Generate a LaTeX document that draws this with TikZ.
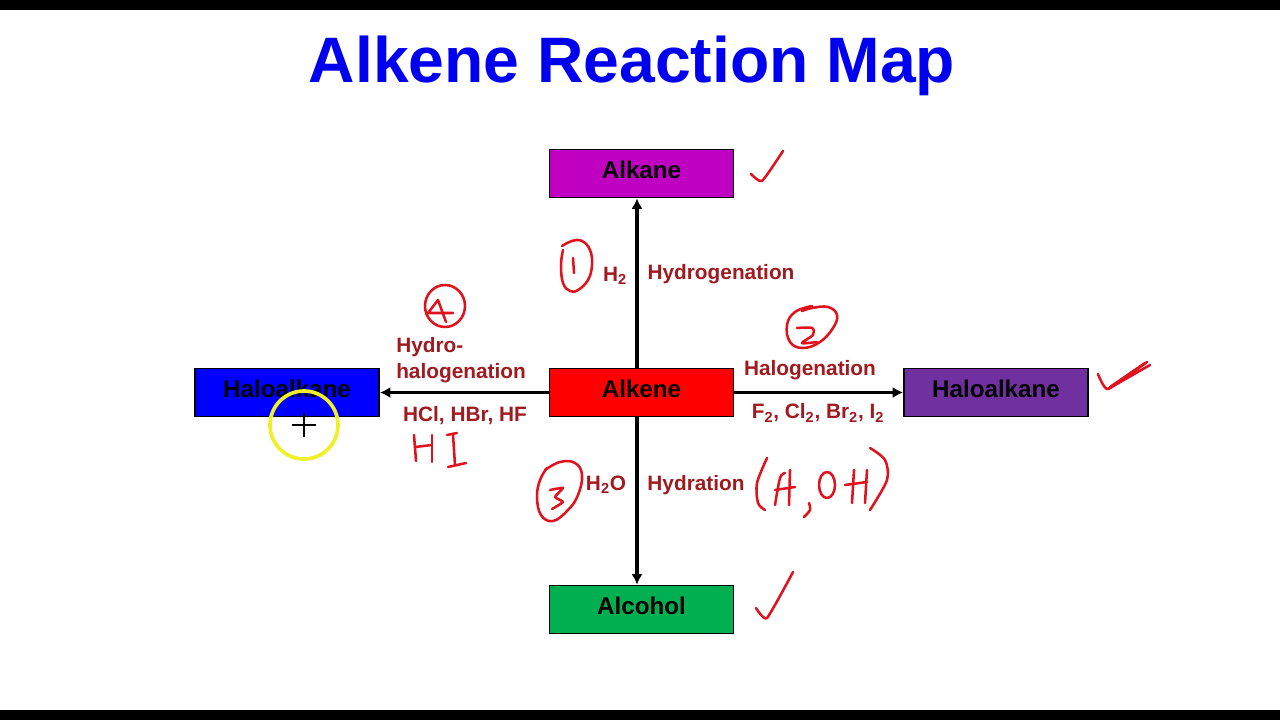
\documentclass[tikz,border=0pt]{standalone}
\usepackage{fontspec}
\setmainfont{Liberation Sans}
\usepackage{tikz}
\usetikzlibrary{arrows.meta}

\definecolor{labelred}{HTML}{A01A20}
\definecolor{penred}{HTML}{E0121E}
\definecolor{alkanefill}{HTML}{C000C0}
\definecolor{halofill}{HTML}{7030A0}
\definecolor{alcoholfill}{HTML}{00B050}

\tikzset{
  compound/.style={draw=black, line width=1.3pt, minimum width=4.6cm, minimum height=1.2cm,
    inner sep=0pt, font=\bfseries\fontsize{17.2}{20}\selectfont, text depth=5pt},
  reaction/.style={text=labelred, inner sep=0pt, font=\bfseries\fontsize{14.8}{18.5}\selectfont},
  route/.style={-{Latex[length=7.5pt,width=8pt]}, line width=2.2pt},
  pen/.style={penred, line width=1.8pt, line cap=round, line join=round},
}

\begin{document}
\begin{tikzpicture}[x=0.025cm, y=-0.025cm]
        % Frame and bars
        \fill[white] (0,0) rectangle (1280,720);
        \fill[black] (0,0) rectangle (1280,10);
        \fill[black] (0,710) rectangle (1280,720);
        \useasboundingbox (0,0) rectangle (1280,720);
        \node[text={rgb,255:red,0;green,0;blue,240}, font=\bfseries\fontsize{45.7}{50}\selectfont] (title) at (632,66) {Alkene Reaction Map};

        % Compounds
        \node[compound, fill=red] (alkene) at (641.5,392.5) {Alkene};
        \node[compound, fill=alkanefill] (alkane) at (641.5,173.5) {Alkane};
        \node[compound, fill=alcoholfill] (alcohol) at (641.5,609.5) {Alcohol};
        \node[compound, fill=blue] (leftalkane) at (287,392.5) {Haloalkane};
        \node[compound, fill=halofill] (rightalkane) at (996,392.5) {Haloalkane};

        % Routes
        \coordinate (axis) at (637,392);
        \draw[route] (axis |- alkene.north) -- (axis |- alkane.south);
        \draw[route] (axis |- alkene.south) -- (axis |- alcohol.north);
        \draw[route] (alkene.west) -- (leftalkane.east);
        \draw[route] (alkene.east) -- (rightalkane.west);

        % Reaction labels
        \node[reaction] (hydrogenation) at (721,274.5) {Hydrogenation};
        \node[reaction] (htwo) at (615,276) {H\textsubscript{2}};
        \node[reaction] (halogenation) at (810,370.5) {Halogenation};
        \node[reaction] (halogens) at (818,413) {F\textsubscript{2}, Cl\textsubscript{2}, Br\textsubscript{2}, I\textsubscript{2}};
        \node[reaction] (hydration) at (696,485) {Hydration};
        \node[reaction] (water) at (606,485) {H\textsubscript{2}O};
        \node[reaction, align=left] (hydrohalo) at (461,360.5) {Hydro-\\halogenation};
        \node[reaction] (acids) at (465,416) {HCl, HBr, HF};

        % Check marks
        \draw[pen] plot[smooth, tension=0.3] coordinates {(751,174) (762,181) (783,151)};
        \draw[pen] plot[smooth, tension=0.3] coordinates {(756,608) (767,618) (793,572)};
        \draw[pen] plot[smooth, tension=0.3] coordinates {(1098,374) (1108,389) (1147,362)};
        \draw[pen] (1108,389) -- (1150,365);
        \draw[pen] (1110,387) -- (1145,363);

        % Circled numbers
        \draw[pen] plot[smooth, tension=0.7] coordinates {(562,246) (572,241) (582,241) (590,250) (592,265) (588,280) (578,290) (570,291) (563,283) (561,265) (563,250)};
        \draw[pen] (573,258) -- (574,273);
        \draw[pen] plot[smooth, tension=0.7] coordinates {(812,306) (795,312) (787,325) (790,342) (803,348) (820,342) (833,328) (837,315) (828,307) (812,308) (802,311)};
        \draw[pen] plot[smooth, tension=0.5] coordinates {(797,328) (812,328) (813,335) (802,343) (817,342)};
        \draw[pen] plot[smooth, tension=0.7] coordinates {(545,470) (560,462) (575,463) (582,475) (578,495) (568,510) (553,521) (541,515) (537,497) (540,480) (547,468)};
        \draw[pen] plot[smooth, tension=0.3] coordinates {(550,490) (563,488) (555,497) (563,502) (552,509)};
        \draw[pen] (445,306) ellipse (20 and 21);
        \draw[pen] (446,322) -- (438,300) -- (428,313) -- (453,313);

        % HI
        \draw[pen] (414,435) -- (416,461);
        \draw[pen] (432,435) -- (432,462);
        \draw[pen] (415,447) -- (432,445);
        \draw[pen] (447,435) -- (457,433);
        \draw[pen] (453,435) -- (455,465);
        \draw[pen] (448,467) -- (466,463);

        % H, OH
        \draw[pen] plot[smooth] coordinates {(767,458) (757,483) (758,503) (765,510)};
        \draw[pen] plot[smooth] coordinates {(785,473) (780,478) (775,505)};
        \draw[pen] (790,470) -- (789,505);
        \draw[pen] (775,490) -- (795,487);
        \draw[pen] plot[smooth] coordinates {(809,503) (810,510) (804,517)};
        \draw[pen] (827,485) ellipse (8 and 13);
        \draw[pen] (854,470) -- (852,503);
        \draw[pen] (867,470) -- (865,503);
        \draw[pen] (845,485) -- (867,482);
        \draw[pen] plot[smooth] coordinates {(870,448) (885,460) (887,480) (870,510)};

        % Pointer
        \draw[line width=2.6pt, color={rgb,255:red,240;green,240;blue,40}] (304,425) circle (34);
        \draw[line width=0.9pt] (292,425) -- (316,425);
        \draw[line width=0.9pt] (304,413) -- (304,437);
    \end{tikzpicture}
\end{document}
